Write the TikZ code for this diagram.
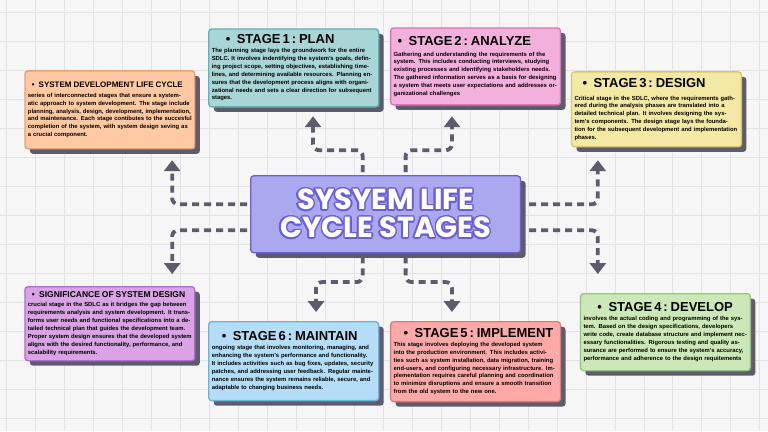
\documentclass[tikz,border=0pt]{standalone}
\usepackage{fontspec}
\setmainfont{Liberation Sans}
\newfontfamily\titlef{Poppins}
\usepackage[copies]{contour}
\usetikzlibrary{shadows,arrows.meta,calc}
\definecolor{bg}{HTML}{F6F6F7}
\definecolor{gridc}{HTML}{E3E3E6}
\definecolor{shd}{HTML}{5E5B6C}
\definecolor{cOr}{HTML}{FFC9A3}\definecolor{bOr}{HTML}{F0A070}
\definecolor{cTe}{HTML}{A8D5D5}\definecolor{bTe}{HTML}{5FB5B5}
\definecolor{cPi}{HTML}{F3B0DD}\definecolor{bPi}{HTML}{D776B8}
\definecolor{cYe}{HTML}{F3E9A5}\definecolor{bYe}{HTML}{D8C870}
\definecolor{cPu}{HTML}{D9A3E6}\definecolor{bPu}{HTML}{B36AD0}
\definecolor{cBl}{HTML}{B5DDF7}\definecolor{bBl}{HTML}{6AB0E0}
\definecolor{cRe}{HTML}{FFAAA8}\definecolor{bRe}{HTML}{E07A78}
\definecolor{cGr}{HTML}{CDE8B8}\definecolor{bGr}{HTML}{92C67A}
\definecolor{cCe}{HTML}{AAA8EE}\definecolor{bCe}{HTML}{6B5FD6}
\contourlength{1.6pt}
\newcommand{\bul}{\textbullet\enspace}
\begin{document}
\begin{tikzpicture}[x=1pt,y=-1pt,
 card/.style={draw=#1,line width=1.3pt,rounded corners=3pt,inner sep=3pt,anchor=north west,align=left,
   drop shadow={shadow xshift=5pt,shadow yshift=-5pt,fill=shd,opacity=1}},
 flow/.style={draw=shd,line width=3.8pt,dash pattern=on 7pt off 5pt,rounded corners=6pt,
   -{Triangle[width=16pt,length=11pt]}},
 bodyf/.style={font=\fontsize{5.9}{7.9}\selectfont\bfseries}]
\fill[bg] (0,0) rectangle (768,431);
\foreach \i in {0,29,...,768} \draw[gridc,line width=0.6pt] (\i+6,0) -- (\i+6,431);
\foreach \j in {0,29,...,431} \draw[gridc,line width=0.6pt] (0,\j+12) -- (768,\j+12);
\useasboundingbox (0,0) rectangle (768,431);

\node[card=bOr,fill=cOr,text width=164pt,minimum height=78pt,bodyf] (sdlc) at (24,70)
 {\hspace*{4pt}{\fontsize{8}{9}\selectfont\bul SYSTEM DEVELOPMENT LIFE CYCLE}\par\vspace{2pt}
 \leftskip=10pt series of interconnected stages that ensure a systematic approach to system development. The stage include planning, analysis, design, development, implementation, and maintenance. Each stage contibutes to the succesful completion of the system, with system design seving as a crucial component.};

\node[card=bTe,fill=cTe,text width=164pt,minimum height=78pt,bodyf] (s1) at (208,28)
 {\hspace*{14pt}{\fontsize{13}{14}\selectfont\bul STAGE 1 : PLAN}\par\vspace{1pt}
 \leftskip=10pt The planning stage lays the groundwork for the entire SDLC. It involves indentifying the system's goals, defining project scope, setting objectives, establishing timelines, and determining available resources. Planning ensures that the development process aligns with organizational needs and sets a clear direction for subsequent stages.};

\node[card=bPi,fill=cPi,text width=164pt,minimum height=77pt,bodyf] (s2) at (390,27)
 {\hspace*{4pt}{\fontsize{13}{14}\selectfont\bul STAGE 2 : ANALYZE}\par\vspace{3pt}
 Gathering and understanding the requirements of the system. This includes conducting interviews, studying existing processes and identifying stakeholders needs. The gathered information serves as a basis for designing a system that meets user expectations and addresses organizational challenges};

\node[card=bYe,fill=cYe,text width=164pt,minimum height=75pt,bodyf] (s3) at (571,71)
 {\hspace*{8pt}{\fontsize{13}{14}\selectfont\bul STAGE 3 : DESIGN}\par\vspace{5pt}
 \leftskip=12pt Critical stage in the SDLC, where the requirements gathered during the analysis phases are translated into a detailed technical plan. It involves designing the system's components. The design stage lays the foundation for the subsequent development and implementation phases.};

\node[card=bPu,fill=cPu,text width=164pt,minimum height=74pt,bodyf] (sig) at (24,286)
 {\hspace*{4pt}{\fontsize{8.5}{9.5}\selectfont\bul SIGNIFICANCE OF SYSTEM DESIGN}\par\vspace{1pt}
 \leftskip=8pt crucial stage in the SDLC as it bridges the gap between requirements analysis and system development. It transforms user needs and functional specifications into a detailed technical plan that guides the development team. Proper system design ensures that the developed system aligns with the desired functionality, performance, and scalability requirements.};

\node[card=bBl,fill=cBl,text width=164pt,minimum height=79pt,bodyf] (s6) at (208,321)
 {\hspace*{10pt}{\fontsize{13}{14}\selectfont\bul STAGE 6 : MAINTAIN}\par\vspace{1pt}
 ongoing stage that involves monitoring, managing, and enhancing the system's performance and functionality. It includes activities such as bug fixes, updates, security patches, and addressing user feedback. Regular maintenance ensures the system remains reliable, secure, and adaptable to changing business needs.};

\node[card=bRe,fill=cRe,text width=164pt,minimum height=80pt,bodyf] (s5) at (390,321)
 {\hspace*{10pt}{\fontsize{13}{14}\selectfont\bul STAGE 5 : IMPLEMENT}\par\vspace{1pt}
 This stage involves deploying the developed system into the production environment. This includes activities such as system installation, data migration, training end-users, and configuring necessary infrastructure. Implementation requires careful planning and coordination to minimize disruptions and ensure a smooth transition from the old system to the new one.};

\node[card=bGr,fill=cGr,text width=164pt,minimum height=77pt,bodyf] (s4) at (580,293)
 {\hspace*{14pt}{\fontsize{13}{14}\selectfont\bul STAGE 4 : DEVELOP}\par\vspace{1pt}
 involves the actual coding and programming of the system. Based on the design specifications, developers write code, create database structure and implement necessary functionalities. Rigorous testing and quality assurance are performed to ensure the system's accuracy, performance and adherence to the design requitements};

\node[card=bCe,fill=cCe,minimum width=270pt,minimum height=77pt,inner sep=0pt,align=center,
 font=\titlef\bfseries\fontsize{29}{30}\selectfont] (ctr) at (250,175)
 {\contour{bCe}{\color{white}SYSYEM LIFE}\\[-2pt]\contour{bCe}{\color{white}CYCLE STAGES}};

\coordinate (tL) at ($(ctr.north)+(-23,-3)$);
\coordinate (tR) at ($(ctr.north)+(20,-3)$);
\coordinate (bL) at ($(ctr.south)+(-23,3)$);
\coordinate (bR) at ($(ctr.south)+(20,3)$);
\coordinate (lU) at ($(ctr.west)+(-3,-10)$);
\coordinate (lD) at ($(ctr.west)+(-3,16)$);
\coordinate (rU) at ($(ctr.east)+(8,-10)$);
\coordinate (rD) at ($(ctr.east)+(8,16)$);
\draw[flow] (tL) |- (313,150) -- (313,116);
\draw[flow] (tR) |- (452,150) -- (452,116);
\draw[flow] (bL) |- (316,282) -- (316,312);
\draw[flow] (bR) |- (452,282) -- (452,312);
\draw[flow] (lU) -| (172,160);
\draw[flow] (lD) -| (172,274);
\draw[flow] (rU) -| (598,160);
\draw[flow] (rD) -| (598,274);
\end{tikzpicture}
\end{document}
